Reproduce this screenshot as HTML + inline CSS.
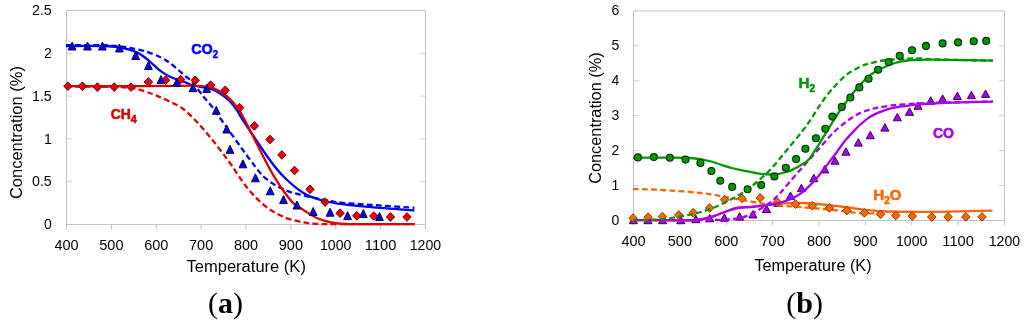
<!DOCTYPE html>
<html><head><meta charset="utf-8"><title>Concentration vs temperature</title>
<style>
html,body{margin:0;padding:0;background:#fff;}
svg{display:block;font-family:"Liberation Sans",sans-serif;}
</style></head><body>
<svg width="1024" height="321" viewBox="0 0 1024 321">
<rect width="1024" height="321" fill="#fff"/>
<g stroke="#c2c2c2" stroke-width="1" fill="none" shape-rendering="auto">
<path d="M66.50 10.50 H425.50 V229.50"/>
<path d="M66.50 10.50 V229.50 M66.50 224.50 H425.50"/>
<path d="M111.38 224.50 V229.50"/>
<path d="M156.25 224.50 V229.50"/>
<path d="M201.12 224.50 V229.50"/>
<path d="M246.00 224.50 V229.50"/>
<path d="M290.88 224.50 V229.50"/>
<path d="M335.75 224.50 V229.50"/>
<path d="M380.62 224.50 V229.50"/>
<path stroke="#d0d0d0" d="M67.00 181.70 h5 M425.00 181.70 h-5"/>
<path stroke="#d0d0d0" d="M67.00 138.90 h5 M425.00 138.90 h-5"/>
<path stroke="#d0d0d0" d="M67.00 96.10 h5 M425.00 96.10 h-5"/>
<path stroke="#d0d0d0" d="M67.00 53.30 h5 M425.00 53.30 h-5"/>
</g>
<text x="66.50" y="250.20" font-size="14" text-anchor="middle" fill="#000" textLength="24.2" lengthAdjust="spacingAndGlyphs" >400</text>
<text x="111.38" y="250.20" font-size="14" text-anchor="middle" fill="#000" textLength="24.2" lengthAdjust="spacingAndGlyphs" >500</text>
<text x="156.25" y="250.20" font-size="14" text-anchor="middle" fill="#000" textLength="24.2" lengthAdjust="spacingAndGlyphs" >600</text>
<text x="201.12" y="250.20" font-size="14" text-anchor="middle" fill="#000" textLength="24.2" lengthAdjust="spacingAndGlyphs" >700</text>
<text x="246.00" y="250.20" font-size="14" text-anchor="middle" fill="#000" textLength="24.2" lengthAdjust="spacingAndGlyphs" >800</text>
<text x="290.88" y="250.20" font-size="14" text-anchor="middle" fill="#000" textLength="24.2" lengthAdjust="spacingAndGlyphs" >900</text>
<text x="335.75" y="250.20" font-size="14" text-anchor="middle" fill="#000" textLength="31.5" lengthAdjust="spacingAndGlyphs" >1000</text>
<text x="380.62" y="250.20" font-size="14" text-anchor="middle" fill="#000" textLength="31.5" lengthAdjust="spacingAndGlyphs" >1100</text>
<text x="425.50" y="250.20" font-size="14" text-anchor="middle" fill="#000" textLength="31.5" lengthAdjust="spacingAndGlyphs" >1200</text>
<text x="51.80" y="229.20" font-size="14" text-anchor="end" fill="#000" >0</text>
<text x="51.80" y="186.40" font-size="14" text-anchor="end" fill="#000" textLength="19.8" lengthAdjust="spacingAndGlyphs" >0.5</text>
<text x="51.80" y="143.60" font-size="14" text-anchor="end" fill="#000" >1</text>
<text x="51.80" y="100.80" font-size="14" text-anchor="end" fill="#000" textLength="19.8" lengthAdjust="spacingAndGlyphs" >1.5</text>
<text x="51.80" y="58.00" font-size="14" text-anchor="end" fill="#000" >2</text>
<text x="51.80" y="15.20" font-size="14" text-anchor="end" fill="#000" textLength="19.8" lengthAdjust="spacingAndGlyphs" >2.5</text>
<text x="246.20" y="271.70" font-size="15.6" text-anchor="middle" fill="#000" textLength="119.4" lengthAdjust="spacingAndGlyphs" >Temperature (K)</text>
<text transform="translate(21.6 132.6) rotate(-90)" font-size="15.6" text-anchor="middle" textLength="133" lengthAdjust="spacingAndGlyphs">Concentration (%)</text>
<path d="M66.00 86.60 C71.67 86.63 89.33 86.60 100.00 86.80 C110.67 87.00 122.40 86.98 130.00 87.80 C137.60 88.62 141.17 90.40 145.60 91.70 C150.03 93.00 152.58 93.95 156.60 95.60 C160.62 97.25 165.05 99.20 169.70 101.60 C174.35 104.00 178.62 105.10 184.50 110.00 C190.38 114.90 197.78 122.67 205.00 131.00 C212.22 139.33 220.73 150.50 227.80 160.00 C234.87 169.50 241.03 180.22 247.40 188.00 C253.77 195.78 259.77 201.80 266.00 206.70 C272.23 211.60 278.52 214.78 284.80 217.40 C291.08 220.02 298.27 221.32 303.70 222.40 C309.13 223.48 310.57 223.60 317.40 223.90 C324.23 224.20 328.52 224.15 344.70 224.20 C360.88 224.25 402.87 224.20 414.50 224.20" fill="none" stroke="#e00000" stroke-width="2.3" stroke-dasharray="5.8 3.3" stroke-linejoin="round"/>
<path d="M66.00 45.20 C71.67 45.20 91.33 45.07 100.00 45.20 C108.67 45.33 113.00 45.53 118.00 46.00 C123.00 46.47 125.40 47.12 130.00 48.00 C134.60 48.88 140.42 49.70 145.60 51.30 C150.78 52.90 157.22 55.78 161.10 57.60 C164.98 59.42 166.30 60.38 168.90 62.20 C171.50 64.02 174.10 66.28 176.70 68.50 C179.30 70.72 181.90 73.25 184.50 75.50 C187.10 77.75 189.17 78.50 192.30 82.00 C195.43 85.50 200.17 92.58 203.30 96.50 C206.43 100.42 208.48 102.17 211.10 105.50 C213.72 108.83 212.48 107.42 219.00 116.50 C225.52 125.58 242.37 149.63 250.20 160.00 C258.03 170.37 260.23 173.72 266.00 178.70 C271.77 183.68 278.55 187.10 284.80 189.90 C291.05 192.70 297.30 193.93 303.50 195.50 C309.70 197.07 315.78 198.12 322.00 199.30 C328.22 200.48 332.80 201.68 340.80 202.60 C348.80 203.52 357.72 203.93 370.00 204.80 C382.28 205.67 407.08 207.30 414.50 207.80" fill="none" stroke="#0000ff" stroke-width="2.3" stroke-dasharray="5.8 3.3" stroke-linejoin="round"/>
<path d="M66.00 46.00 C71.67 46.00 91.83 45.87 100.00 46.00 C108.17 46.13 110.28 46.25 115.00 46.80 C119.72 47.35 124.50 48.28 128.30 49.30 C132.10 50.32 134.92 51.45 137.80 52.90 C140.68 54.35 143.02 56.05 145.60 58.00 C148.18 59.95 150.72 62.37 153.30 64.60 C155.88 66.83 158.50 69.47 161.10 71.40 C163.70 73.33 166.30 74.87 168.90 76.20 C171.50 77.53 174.10 78.43 176.70 79.40 C179.30 80.37 182.03 81.07 184.50 82.00 C186.97 82.93 188.92 84.20 191.50 85.00 C194.08 85.80 196.75 86.13 200.00 86.80 C203.25 87.47 207.67 87.88 211.00 89.00 C214.33 90.12 217.00 91.58 220.00 93.50 C223.00 95.42 226.25 97.83 229.00 100.50 C231.75 103.17 234.25 106.33 236.50 109.50 C238.75 112.67 236.95 111.08 242.50 119.50 C248.05 127.92 262.75 150.28 269.80 160.00 C276.85 169.72 279.18 172.30 284.80 177.80 C290.42 183.30 297.28 189.22 303.50 193.00 C309.72 196.78 315.88 198.68 322.10 200.50 C328.32 202.32 332.65 202.78 340.80 203.90 C348.95 205.02 358.72 206.12 371.00 207.20 C383.28 208.28 407.25 209.87 414.50 210.40" fill="none" stroke="#0000ff" stroke-width="2.3" stroke-linejoin="round"/>
<path d="M66.00 86.20 C75.00 86.20 101.00 86.27 120.00 86.20 C139.00 86.13 167.40 85.87 180.00 85.80 C192.60 85.73 190.42 85.55 195.60 85.80 C200.78 86.05 206.95 86.30 211.10 87.30 C215.25 88.30 217.38 89.88 220.50 91.80 C223.62 93.72 226.95 96.08 229.80 98.80 C232.65 101.52 235.27 104.87 237.60 108.10 C239.93 111.33 239.23 109.55 243.80 118.20 C248.37 126.85 259.73 149.92 265.00 160.00 C270.27 170.08 272.10 173.25 275.40 178.70 C278.70 184.15 281.68 188.50 284.80 192.70 C287.92 196.90 290.95 200.98 294.10 203.90 C297.25 206.82 299.82 207.80 303.70 210.20 C307.58 212.60 312.85 216.27 317.40 218.30 C321.95 220.33 326.45 221.45 331.00 222.40 C335.55 223.35 338.20 223.70 344.70 224.00 C351.20 224.30 358.37 224.17 370.00 224.20 C381.63 224.23 407.08 224.20 414.50 224.20" fill="none" stroke="#e00000" stroke-width="2.3" stroke-linejoin="round"/>
<path d="M67.90 81.85 L72.10 86.20 L67.90 90.55 L63.70 86.20 Z" fill="#ee0000" stroke="#680020" stroke-width="1.0"/>
<path d="M82.40 81.85 L86.60 86.20 L82.40 90.55 L78.20 86.20 Z" fill="#ee0000" stroke="#680020" stroke-width="1.0"/>
<path d="M97.40 82.75 L101.60 87.10 L97.40 91.45 L93.20 87.10 Z" fill="#ee0000" stroke="#680020" stroke-width="1.0"/>
<path d="M114.20 82.75 L118.40 87.10 L114.20 91.45 L110.00 87.10 Z" fill="#ee0000" stroke="#680020" stroke-width="1.0"/>
<path d="M131.00 82.75 L135.20 87.10 L131.00 91.45 L126.80 87.10 Z" fill="#ee0000" stroke="#680020" stroke-width="1.0"/>
<path d="M148.40 77.65 L152.60 82.00 L148.40 86.35 L144.20 82.00 Z" fill="#ee0000" stroke="#680020" stroke-width="1.0"/>
<path d="M165.60 75.85 L169.80 80.20 L165.60 84.55 L161.40 80.20 Z" fill="#ee0000" stroke="#680020" stroke-width="1.0"/>
<path d="M180.60 75.25 L184.80 79.60 L180.60 83.95 L176.40 79.60 Z" fill="#ee0000" stroke="#680020" stroke-width="1.0"/>
<path d="M195.20 75.95 L199.40 80.30 L195.20 84.65 L191.00 80.30 Z" fill="#ee0000" stroke="#680020" stroke-width="1.0"/>
<path d="M210.60 80.85 L214.80 85.20 L210.60 89.55 L206.40 85.20 Z" fill="#ee0000" stroke="#680020" stroke-width="1.0"/>
<path d="M225.20 85.95 L229.40 90.30 L225.20 94.65 L221.00 90.30 Z" fill="#ee0000" stroke="#680020" stroke-width="1.0"/>
<path d="M239.60 103.35 L243.80 107.70 L239.60 112.05 L235.40 107.70 Z" fill="#ee0000" stroke="#680020" stroke-width="1.0"/>
<path d="M254.40 121.55 L258.60 125.90 L254.40 130.25 L250.20 125.90 Z" fill="#ee0000" stroke="#680020" stroke-width="1.0"/>
<path d="M270.00 135.15 L274.20 139.50 L270.00 143.85 L265.80 139.50 Z" fill="#ee0000" stroke="#680020" stroke-width="1.0"/>
<path d="M281.90 150.55 L286.10 154.90 L281.90 159.25 L277.70 154.90 Z" fill="#ee0000" stroke="#680020" stroke-width="1.0"/>
<path d="M294.50 166.15 L298.70 170.50 L294.50 174.85 L290.30 170.50 Z" fill="#ee0000" stroke="#680020" stroke-width="1.0"/>
<path d="M310.00 184.95 L314.20 189.30 L310.00 193.65 L305.80 189.30 Z" fill="#ee0000" stroke="#680020" stroke-width="1.0"/>
<path d="M325.10 197.75 L329.30 202.10 L325.10 206.45 L320.90 202.10 Z" fill="#ee0000" stroke="#680020" stroke-width="1.0"/>
<path d="M340.10 208.85 L344.30 213.20 L340.10 217.55 L335.90 213.20 Z" fill="#ee0000" stroke="#680020" stroke-width="1.0"/>
<path d="M356.80 211.45 L361.00 215.80 L356.80 220.15 L352.60 215.80 Z" fill="#ee0000" stroke="#680020" stroke-width="1.0"/>
<path d="M373.80 211.65 L378.00 216.00 L373.80 220.35 L369.60 216.00 Z" fill="#ee0000" stroke="#680020" stroke-width="1.0"/>
<path d="M390.50 212.65 L394.70 217.00 L390.50 221.35 L386.30 217.00 Z" fill="#ee0000" stroke="#680020" stroke-width="1.0"/>
<path d="M407.00 212.65 L411.20 217.00 L407.00 221.35 L402.80 217.00 Z" fill="#ee0000" stroke="#680020" stroke-width="1.0"/>
<path d="M72.10 42.00 L76.00 50.00 L68.20 50.00 Z" fill="#0000ff" stroke="#08082e" stroke-width="1.0" stroke-linejoin="miter"/>
<path d="M87.50 42.00 L91.40 50.00 L83.60 50.00 Z" fill="#0000ff" stroke="#08082e" stroke-width="1.0" stroke-linejoin="miter"/>
<path d="M102.40 42.00 L106.30 50.00 L98.50 50.00 Z" fill="#0000ff" stroke="#08082e" stroke-width="1.0" stroke-linejoin="miter"/>
<path d="M119.40 44.00 L123.30 52.00 L115.50 52.00 Z" fill="#0000ff" stroke="#08082e" stroke-width="1.0" stroke-linejoin="miter"/>
<path d="M135.70 51.50 L139.60 59.50 L131.80 59.50 Z" fill="#0000ff" stroke="#08082e" stroke-width="1.0" stroke-linejoin="miter"/>
<path d="M148.40 61.50 L152.30 69.50 L144.50 69.50 Z" fill="#0000ff" stroke="#08082e" stroke-width="1.0" stroke-linejoin="miter"/>
<path d="M161.00 75.60 L164.90 83.60 L157.10 83.60 Z" fill="#0000ff" stroke="#08082e" stroke-width="1.0" stroke-linejoin="miter"/>
<path d="M176.80 78.40 L180.70 86.40 L172.90 86.40 Z" fill="#0000ff" stroke="#08082e" stroke-width="1.0" stroke-linejoin="miter"/>
<path d="M193.00 83.70 L196.90 91.70 L189.10 91.70 Z" fill="#0000ff" stroke="#08082e" stroke-width="1.0" stroke-linejoin="miter"/>
<path d="M206.70 84.40 L210.60 92.40 L202.80 92.40 Z" fill="#0000ff" stroke="#08082e" stroke-width="1.0" stroke-linejoin="miter"/>
<path d="M216.30 106.30 L220.20 114.30 L212.40 114.30 Z" fill="#0000ff" stroke="#08082e" stroke-width="1.0" stroke-linejoin="miter"/>
<path d="M226.70 125.00 L230.60 133.00 L222.80 133.00 Z" fill="#0000ff" stroke="#08082e" stroke-width="1.0" stroke-linejoin="miter"/>
<path d="M230.00 145.30 L233.90 153.30 L226.10 153.30 Z" fill="#0000ff" stroke="#08082e" stroke-width="1.0" stroke-linejoin="miter"/>
<path d="M242.90 159.80 L246.80 167.80 L239.00 167.80 Z" fill="#0000ff" stroke="#08082e" stroke-width="1.0" stroke-linejoin="miter"/>
<path d="M255.40 173.80 L259.30 181.80 L251.50 181.80 Z" fill="#0000ff" stroke="#08082e" stroke-width="1.0" stroke-linejoin="miter"/>
<path d="M270.20 186.80 L274.10 194.80 L266.30 194.80 Z" fill="#0000ff" stroke="#08082e" stroke-width="1.0" stroke-linejoin="miter"/>
<path d="M283.50 195.60 L287.40 203.60 L279.60 203.60 Z" fill="#0000ff" stroke="#08082e" stroke-width="1.0" stroke-linejoin="miter"/>
<path d="M297.00 201.00 L300.90 209.00 L293.10 209.00 Z" fill="#0000ff" stroke="#08082e" stroke-width="1.0" stroke-linejoin="miter"/>
<path d="M313.20 207.50 L317.10 215.50 L309.30 215.50 Z" fill="#0000ff" stroke="#08082e" stroke-width="1.0" stroke-linejoin="miter"/>
<path d="M330.10 208.20 L334.00 216.20 L326.20 216.20 Z" fill="#0000ff" stroke="#08082e" stroke-width="1.0" stroke-linejoin="miter"/>
<path d="M347.60 211.60 L351.50 219.60 L343.70 219.60 Z" fill="#0000ff" stroke="#08082e" stroke-width="1.0" stroke-linejoin="miter"/>
<path d="M363.30 209.50 L367.20 217.50 L359.40 217.50 Z" fill="#0000ff" stroke="#08082e" stroke-width="1.0" stroke-linejoin="miter"/>
<path d="M379.50 212.50 L383.40 220.50 L375.60 220.50 Z" fill="#0000ff" stroke="#08082e" stroke-width="1.0" stroke-linejoin="miter"/>
<text x="191.2" y="53.9" font-size="15.1" font-weight="bold" stroke="#0000ff" stroke-width="0.6" fill="#0000ff"><tspan textLength="21.6" lengthAdjust="spacingAndGlyphs">CO</tspan><tspan dy="4" font-size="10.4" textLength="5.2" lengthAdjust="spacingAndGlyphs">2</tspan></text>
<text x="110.8" y="118.7" font-size="15.1" font-weight="bold" stroke="#e00000" stroke-width="0.6" fill="#e00000"><tspan textLength="20" lengthAdjust="spacingAndGlyphs">CH</tspan><tspan dy="3.8" font-size="10.4" textLength="6" lengthAdjust="spacingAndGlyphs">4</tspan></text>
<text x="225.6" y="312.8" font-size="30" text-anchor="middle" font-family="Liberation Serif,serif">(<tspan font-weight="bold">a</tspan>)</text>
<g stroke="#c2c2c2" stroke-width="1" fill="none" shape-rendering="auto">
<path d="M633.50 10.90 H1004.50 V225.50"/>
<path d="M633.50 10.90 V225.50 M633.50 220.50 H1004.50"/>
<path d="M679.88 220.50 V225.50"/>
<path d="M726.25 220.50 V225.50"/>
<path d="M772.62 220.50 V225.50"/>
<path d="M819.00 220.50 V225.50"/>
<path d="M865.38 220.50 V225.50"/>
<path d="M911.75 220.50 V225.50"/>
<path d="M958.12 220.50 V225.50"/>
<path stroke="#d0d0d0" d="M634.00 185.57 h5 M1004.00 185.57 h-5"/>
<path stroke="#d0d0d0" d="M634.00 150.63 h5 M1004.00 150.63 h-5"/>
<path stroke="#d0d0d0" d="M634.00 115.70 h5 M1004.00 115.70 h-5"/>
<path stroke="#d0d0d0" d="M634.00 80.77 h5 M1004.00 80.77 h-5"/>
<path stroke="#d0d0d0" d="M634.00 45.83 h5 M1004.00 45.83 h-5"/>
</g>
<text x="633.50" y="245.90" font-size="14" text-anchor="middle" fill="#000" textLength="24.2" lengthAdjust="spacingAndGlyphs" >400</text>
<text x="679.88" y="245.90" font-size="14" text-anchor="middle" fill="#000" textLength="24.2" lengthAdjust="spacingAndGlyphs" >500</text>
<text x="726.25" y="245.90" font-size="14" text-anchor="middle" fill="#000" textLength="24.2" lengthAdjust="spacingAndGlyphs" >600</text>
<text x="772.62" y="245.90" font-size="14" text-anchor="middle" fill="#000" textLength="24.2" lengthAdjust="spacingAndGlyphs" >700</text>
<text x="819.00" y="245.90" font-size="14" text-anchor="middle" fill="#000" textLength="24.2" lengthAdjust="spacingAndGlyphs" >800</text>
<text x="865.38" y="245.90" font-size="14" text-anchor="middle" fill="#000" textLength="24.2" lengthAdjust="spacingAndGlyphs" >900</text>
<text x="911.75" y="245.90" font-size="14" text-anchor="middle" fill="#000" textLength="31.5" lengthAdjust="spacingAndGlyphs" >1000</text>
<text x="958.12" y="245.90" font-size="14" text-anchor="middle" fill="#000" textLength="31.5" lengthAdjust="spacingAndGlyphs" >1100</text>
<text x="1004.50" y="245.90" font-size="14" text-anchor="middle" fill="#000" textLength="31.5" lengthAdjust="spacingAndGlyphs" >1200</text>
<text x="619.40" y="224.60" font-size="14" text-anchor="end" fill="#000" >0</text>
<text x="619.40" y="189.67" font-size="14" text-anchor="end" fill="#000" >1</text>
<text x="619.40" y="154.73" font-size="14" text-anchor="end" fill="#000" >2</text>
<text x="619.40" y="119.80" font-size="14" text-anchor="end" fill="#000" >3</text>
<text x="619.40" y="84.87" font-size="14" text-anchor="end" fill="#000" >4</text>
<text x="619.40" y="49.93" font-size="14" text-anchor="end" fill="#000" >5</text>
<text x="619.40" y="15.00" font-size="14" text-anchor="end" fill="#000" >6</text>
<text x="813.00" y="271.00" font-size="15.6" text-anchor="middle" fill="#000" textLength="117.2" lengthAdjust="spacingAndGlyphs" >Temperature (K)</text>
<text transform="translate(600.8 118.1) rotate(-90)" font-size="15.6" text-anchor="middle" textLength="131.4" lengthAdjust="spacingAndGlyphs">Concentration (%)</text>
<path d="M633.40 216.30 L637.45 223.70 L629.35 223.70 Z" fill="#aa00ff" stroke="#3a0050" stroke-width="1.0" stroke-linejoin="miter"/>
<path d="M648.00 216.30 L652.05 223.70 L643.95 223.70 Z" fill="#aa00ff" stroke="#3a0050" stroke-width="1.0" stroke-linejoin="miter"/>
<path d="M662.60 216.30 L666.65 223.70 L658.55 223.70 Z" fill="#aa00ff" stroke="#3a0050" stroke-width="1.0" stroke-linejoin="miter"/>
<path d="M680.80 216.30 L684.85 223.70 L676.75 223.70 Z" fill="#aa00ff" stroke="#3a0050" stroke-width="1.0" stroke-linejoin="miter"/>
<path d="M695.90 215.30 L699.95 222.70 L691.85 222.70 Z" fill="#aa00ff" stroke="#3a0050" stroke-width="1.0" stroke-linejoin="miter"/>
<path d="M709.70 214.40 L713.75 221.80 L705.65 221.80 Z" fill="#aa00ff" stroke="#3a0050" stroke-width="1.0" stroke-linejoin="miter"/>
<path d="M724.40 213.80 L728.45 221.20 L720.35 221.20 Z" fill="#aa00ff" stroke="#3a0050" stroke-width="1.0" stroke-linejoin="miter"/>
<path d="M739.60 212.70 L743.65 220.10 L735.55 220.10 Z" fill="#aa00ff" stroke="#3a0050" stroke-width="1.0" stroke-linejoin="miter"/>
<path d="M752.90 210.50 L756.95 217.90 L748.85 217.90 Z" fill="#aa00ff" stroke="#3a0050" stroke-width="1.0" stroke-linejoin="miter"/>
<path d="M766.50 205.10 L770.55 212.50 L762.45 212.50 Z" fill="#aa00ff" stroke="#3a0050" stroke-width="1.0" stroke-linejoin="miter"/>
<path d="M778.00 198.90 L782.05 206.30 L773.95 206.30 Z" fill="#aa00ff" stroke="#3a0050" stroke-width="1.0" stroke-linejoin="miter"/>
<path d="M790.50 192.00 L794.55 199.40 L786.45 199.40 Z" fill="#aa00ff" stroke="#3a0050" stroke-width="1.0" stroke-linejoin="miter"/>
<path d="M801.40 184.20 L805.45 191.60 L797.35 191.60 Z" fill="#aa00ff" stroke="#3a0050" stroke-width="1.0" stroke-linejoin="miter"/>
<path d="M813.80 174.30 L817.85 181.70 L809.75 181.70 Z" fill="#aa00ff" stroke="#3a0050" stroke-width="1.0" stroke-linejoin="miter"/>
<path d="M824.70 165.50 L828.75 172.90 L820.65 172.90 Z" fill="#aa00ff" stroke="#3a0050" stroke-width="1.0" stroke-linejoin="miter"/>
<path d="M835.00 156.80 L839.05 164.20 L830.95 164.20 Z" fill="#aa00ff" stroke="#3a0050" stroke-width="1.0" stroke-linejoin="miter"/>
<path d="M845.90 147.80 L849.95 155.20 L841.85 155.20 Z" fill="#aa00ff" stroke="#3a0050" stroke-width="1.0" stroke-linejoin="miter"/>
<path d="M858.30 138.70 L862.35 146.10 L854.25 146.10 Z" fill="#aa00ff" stroke="#3a0050" stroke-width="1.0" stroke-linejoin="miter"/>
<path d="M870.30 131.30 L874.35 138.70 L866.25 138.70 Z" fill="#aa00ff" stroke="#3a0050" stroke-width="1.0" stroke-linejoin="miter"/>
<path d="M884.90 123.70 L888.95 131.10 L880.85 131.10 Z" fill="#aa00ff" stroke="#3a0050" stroke-width="1.0" stroke-linejoin="miter"/>
<path d="M897.30 113.40 L901.35 120.80 L893.25 120.80 Z" fill="#aa00ff" stroke="#3a0050" stroke-width="1.0" stroke-linejoin="miter"/>
<path d="M909.50 107.90 L913.55 115.30 L905.45 115.30 Z" fill="#aa00ff" stroke="#3a0050" stroke-width="1.0" stroke-linejoin="miter"/>
<path d="M918.00 101.90 L922.05 109.30 L913.95 109.30 Z" fill="#aa00ff" stroke="#3a0050" stroke-width="1.0" stroke-linejoin="miter"/>
<path d="M930.70 96.80 L934.75 104.20 L926.65 104.20 Z" fill="#aa00ff" stroke="#3a0050" stroke-width="1.0" stroke-linejoin="miter"/>
<path d="M942.70 94.90 L946.75 102.30 L938.65 102.30 Z" fill="#aa00ff" stroke="#3a0050" stroke-width="1.0" stroke-linejoin="miter"/>
<path d="M957.30 92.10 L961.35 99.50 L953.25 99.50 Z" fill="#aa00ff" stroke="#3a0050" stroke-width="1.0" stroke-linejoin="miter"/>
<path d="M971.40 91.30 L975.45 98.70 L967.35 98.70 Z" fill="#aa00ff" stroke="#3a0050" stroke-width="1.0" stroke-linejoin="miter"/>
<path d="M985.60 90.00 L989.65 97.40 L981.55 97.40 Z" fill="#aa00ff" stroke="#3a0050" stroke-width="1.0" stroke-linejoin="miter"/>
<path d="M633.00 189.00 C636.87 189.12 647.15 189.25 656.20 189.70 C665.25 190.15 678.22 190.93 687.30 191.70 C696.38 192.47 704.22 193.40 710.70 194.30 C717.18 195.20 719.20 195.85 726.20 197.10 C733.20 198.35 745.23 200.52 752.70 201.80 C760.17 203.08 762.73 203.88 771.00 204.80 C779.27 205.72 791.88 206.43 802.30 207.30 C812.72 208.17 824.62 209.08 833.50 210.00 C842.38 210.92 849.30 212.25 855.60 212.80 C861.90 213.35 867.23 213.30 871.30 213.30 C875.37 213.30 877.22 213.02 880.00 212.80 C882.78 212.58 886.67 212.13 888.00 212.00" fill="none" stroke="#ff6600" stroke-width="2.3" stroke-dasharray="5.8 3.3" stroke-linejoin="round"/>
<path d="M633.00 220.20 C637.50 220.20 649.67 220.23 660.00 220.20 C670.33 220.17 686.30 220.60 695.00 220.00 C703.70 219.40 707.25 217.93 712.20 216.60 C717.15 215.27 720.55 213.43 724.70 212.00 C728.85 210.57 732.38 208.90 737.10 208.00 C741.82 207.10 748.35 207.07 753.00 206.60 C757.65 206.13 760.93 205.67 765.00 205.20 C769.07 204.73 771.18 204.17 777.40 203.80 C783.62 203.43 792.95 202.70 802.30 203.00 C811.65 203.30 824.72 204.68 833.50 205.60 C842.28 206.52 848.70 207.70 855.00 208.50 C861.30 209.30 865.98 209.90 871.30 210.40 C876.62 210.90 879.12 211.27 886.90 211.50 C894.68 211.73 907.58 211.78 918.00 211.80 C928.42 211.82 936.98 211.80 949.40 211.60 C961.82 211.40 985.32 210.77 992.50 210.60" fill="none" stroke="#ff6600" stroke-width="2.3" stroke-linejoin="round"/>
<path d="M633.10 213.85 L637.30 218.20 L633.10 222.55 L628.90 218.20 Z" fill="#ff6600" stroke="#8a3a00" stroke-width="1.0"/>
<path d="M648.10 212.75 L652.30 217.10 L648.10 221.45 L643.90 217.10 Z" fill="#ff6600" stroke="#8a3a00" stroke-width="1.0"/>
<path d="M662.40 212.25 L666.60 216.60 L662.40 220.95 L658.20 216.60 Z" fill="#ff6600" stroke="#8a3a00" stroke-width="1.0"/>
<path d="M678.70 210.65 L682.90 215.00 L678.70 219.35 L674.50 215.00 Z" fill="#ff6600" stroke="#8a3a00" stroke-width="1.0"/>
<path d="M693.20 208.35 L697.40 212.70 L693.20 217.05 L689.00 212.70 Z" fill="#ff6600" stroke="#8a3a00" stroke-width="1.0"/>
<path d="M709.60 203.65 L713.80 208.00 L709.60 212.35 L705.40 208.00 Z" fill="#ff6600" stroke="#8a3a00" stroke-width="1.0"/>
<path d="M724.70 195.45 L728.90 199.80 L724.70 204.15 L720.50 199.80 Z" fill="#ff6600" stroke="#8a3a00" stroke-width="1.0"/>
<path d="M742.00 194.05 L746.20 198.40 L742.00 202.75 L737.80 198.40 Z" fill="#ff6600" stroke="#8a3a00" stroke-width="1.0"/>
<path d="M760.20 193.55 L764.40 197.90 L760.20 202.25 L756.00 197.90 Z" fill="#ff6600" stroke="#8a3a00" stroke-width="1.0"/>
<path d="M777.40 197.95 L781.60 202.30 L777.40 206.65 L773.20 202.30 Z" fill="#ff6600" stroke="#8a3a00" stroke-width="1.0"/>
<path d="M795.50 199.75 L799.70 204.10 L795.50 208.45 L791.30 204.10 Z" fill="#ff6600" stroke="#8a3a00" stroke-width="1.0"/>
<path d="M812.30 201.35 L816.50 205.70 L812.30 210.05 L808.10 205.70 Z" fill="#ff6600" stroke="#8a3a00" stroke-width="1.0"/>
<path d="M829.40 203.55 L833.60 207.90 L829.40 212.25 L825.20 207.90 Z" fill="#ff6600" stroke="#8a3a00" stroke-width="1.0"/>
<path d="M847.00 206.15 L851.20 210.50 L847.00 214.85 L842.80 210.50 Z" fill="#ff6600" stroke="#8a3a00" stroke-width="1.0"/>
<path d="M864.50 208.45 L868.70 212.80 L864.50 217.15 L860.30 212.80 Z" fill="#ff6600" stroke="#8a3a00" stroke-width="1.0"/>
<path d="M880.60 209.95 L884.80 214.30 L880.60 218.65 L876.40 214.30 Z" fill="#ff6600" stroke="#8a3a00" stroke-width="1.0"/>
<path d="M895.80 211.15 L900.00 215.50 L895.80 219.85 L891.60 215.50 Z" fill="#ff6600" stroke="#8a3a00" stroke-width="1.0"/>
<path d="M912.30 211.75 L916.50 216.10 L912.30 220.45 L908.10 216.10 Z" fill="#ff6600" stroke="#8a3a00" stroke-width="1.0"/>
<path d="M931.70 212.65 L935.90 217.00 L931.70 221.35 L927.50 217.00 Z" fill="#ff6600" stroke="#8a3a00" stroke-width="1.0"/>
<path d="M948.10 212.55 L952.30 216.90 L948.10 221.25 L943.90 216.90 Z" fill="#ff6600" stroke="#8a3a00" stroke-width="1.0"/>
<path d="M965.80 212.55 L970.00 216.90 L965.80 221.25 L961.60 216.90 Z" fill="#ff6600" stroke="#8a3a00" stroke-width="1.0"/>
<path d="M982.00 212.55 L986.20 216.90 L982.00 221.25 L977.80 216.90 Z" fill="#ff6600" stroke="#8a3a00" stroke-width="1.0"/>
<path d="M633.00 220.20 C640.83 220.20 666.33 220.23 680.00 220.20 C693.67 220.17 706.67 220.17 715.00 220.00 C723.33 219.83 725.27 219.67 730.00 219.20 C734.73 218.73 738.85 218.63 743.40 217.20 C747.95 215.77 752.92 212.97 757.30 210.60 C761.68 208.23 766.25 205.55 769.70 203.00 C773.15 200.45 775.17 198.22 778.00 195.30 C780.83 192.38 782.65 190.13 786.70 185.50 C790.75 180.87 797.10 173.42 802.30 167.50 C807.50 161.58 813.28 155.22 817.90 150.00 C822.52 144.78 826.68 139.78 830.00 136.20 C833.32 132.62 835.20 130.83 837.80 128.50 C840.40 126.17 843.02 124.15 845.60 122.20 C848.18 120.25 850.72 118.40 853.30 116.80 C855.88 115.20 858.50 113.77 861.10 112.60 C863.70 111.43 866.30 110.60 868.90 109.80 C871.50 109.00 872.80 108.53 876.70 107.80 C880.60 107.07 886.75 106.03 892.30 105.40 C897.85 104.77 903.72 104.42 910.00 104.00 C916.28 103.58 916.17 103.30 930.00 102.90 C943.83 102.50 982.50 101.82 993.00 101.60" fill="none" stroke="#aa00ee" stroke-width="2.3" stroke-dasharray="5.8 3.3" stroke-linejoin="round"/>
<path d="M633.00 220.20 C637.50 220.20 649.67 220.23 660.00 220.20 C670.33 220.17 686.30 220.60 695.00 220.00 C703.70 219.40 707.25 217.93 712.20 216.60 C717.15 215.27 720.55 213.43 724.70 212.00 C728.85 210.57 732.38 208.87 737.10 208.00 C741.82 207.13 747.35 207.37 753.00 206.80 C758.65 206.23 765.38 205.63 771.00 204.60 C776.62 203.57 781.48 202.65 786.70 200.60 C791.92 198.55 797.10 196.28 802.30 192.30 C807.50 188.32 812.70 182.67 817.90 176.70 C823.10 170.73 829.82 161.37 833.50 156.50 C837.18 151.63 837.98 150.23 840.00 147.50 C842.02 144.77 843.38 142.75 845.60 140.10 C847.82 137.45 850.72 134.32 853.30 131.60 C855.88 128.88 858.50 126.13 861.10 123.80 C863.70 121.47 866.30 119.33 868.90 117.60 C871.50 115.87 874.10 114.62 876.70 113.40 C879.30 112.18 881.90 111.17 884.50 110.30 C887.10 109.43 889.72 108.80 892.30 108.20 C894.88 107.60 897.05 107.17 900.00 106.70 C902.95 106.23 906.28 105.85 910.00 105.40 C913.72 104.95 915.05 104.47 922.30 104.00 C929.55 103.53 941.72 103.00 953.50 102.60 C965.28 102.20 986.42 101.77 993.00 101.60" fill="none" stroke="#aa00ee" stroke-width="2.3" stroke-linejoin="round"/>
<path d="M633.00 220.00 C635.83 219.97 644.83 219.97 650.00 219.80 C655.17 219.63 659.08 219.53 664.00 219.00 C668.92 218.47 674.32 217.52 679.50 216.60 C684.68 215.68 689.90 214.80 695.10 213.50 C700.30 212.20 705.52 210.75 710.70 208.80 C715.88 206.85 721.02 204.40 726.20 201.80 C731.38 199.20 736.90 196.33 741.80 193.20 C746.70 190.07 750.73 187.05 755.60 183.00 C760.47 178.95 765.82 174.37 771.00 168.90 C776.18 163.43 781.48 156.47 786.70 150.20 C791.92 143.93 798.28 136.45 802.30 131.30 C806.32 126.15 808.18 123.18 810.80 119.30 C813.42 115.42 815.98 111.08 818.00 108.00 C820.02 104.92 820.57 103.92 822.90 100.80 C825.23 97.68 828.15 93.57 832.00 89.30 C835.85 85.03 841.33 78.95 846.00 75.20 C850.67 71.45 856.00 68.77 860.00 66.80 C864.00 64.83 866.25 64.45 870.00 63.40 C873.75 62.35 878.35 61.18 882.50 60.50 C886.65 59.82 890.75 59.62 894.90 59.30 C899.05 58.98 903.25 58.75 907.40 58.60 C911.55 58.45 915.03 58.27 919.80 58.40 C924.57 58.53 923.80 59.02 936.00 59.40 C948.20 59.78 983.50 60.48 993.00 60.70" fill="none" stroke="#009900" stroke-width="2.3" stroke-dasharray="5.8 3.3" stroke-linejoin="round"/>
<path d="M633.00 157.70 C637.50 157.70 650.50 157.65 660.00 157.70 C669.50 157.75 681.83 157.45 690.00 158.00 C698.17 158.55 702.08 159.33 709.00 161.00 C715.92 162.67 725.50 166.37 731.50 168.00 C737.50 169.63 740.98 169.97 745.00 170.80 C749.02 171.63 751.27 172.38 755.60 173.00 C759.93 173.62 765.82 174.67 771.00 174.50 C776.18 174.33 781.48 173.70 786.70 172.00 C791.92 170.30 798.70 166.30 802.30 164.30 C805.90 162.30 806.18 162.30 808.30 160.00 C810.42 157.70 812.82 153.78 815.00 150.50 C817.18 147.22 819.23 143.80 821.40 140.30 C823.57 136.80 825.82 133.05 828.00 129.50 C830.18 125.95 832.50 122.17 834.50 119.00 C836.50 115.83 838.08 113.30 840.00 110.50 C841.92 107.70 843.83 105.12 846.00 102.20 C848.17 99.28 850.67 95.87 853.00 93.00 C855.33 90.13 857.17 87.97 860.00 85.00 C862.83 82.03 866.25 78.03 870.00 75.20 C873.75 72.37 878.35 70.03 882.50 68.00 C886.65 65.97 890.75 64.25 894.90 63.00 C899.05 61.75 903.25 61.03 907.40 60.50 C911.55 59.97 913.58 59.92 919.80 59.80 C926.02 59.68 932.50 59.65 944.70 59.80 C956.90 59.95 984.95 60.55 993.00 60.70" fill="none" stroke="#009900" stroke-width="2.3" stroke-linejoin="round"/>
<circle cx="637.90" cy="157.40" r="3.50" fill="#009900" stroke="#002a00" stroke-width="1.1"/>
<circle cx="653.90" cy="157.00" r="3.50" fill="#009900" stroke="#002a00" stroke-width="1.1"/>
<circle cx="669.80" cy="157.80" r="3.50" fill="#009900" stroke="#002a00" stroke-width="1.1"/>
<circle cx="685.50" cy="159.60" r="3.50" fill="#009900" stroke="#002a00" stroke-width="1.1"/>
<circle cx="700.40" cy="163.00" r="3.50" fill="#009900" stroke="#002a00" stroke-width="1.1"/>
<circle cx="711.40" cy="171.00" r="3.50" fill="#009900" stroke="#002a00" stroke-width="1.1"/>
<circle cx="720.30" cy="180.80" r="3.50" fill="#009900" stroke="#002a00" stroke-width="1.1"/>
<circle cx="732.20" cy="186.90" r="3.50" fill="#009900" stroke="#002a00" stroke-width="1.1"/>
<circle cx="747.60" cy="189.20" r="3.50" fill="#009900" stroke="#002a00" stroke-width="1.1"/>
<circle cx="761.20" cy="185.10" r="3.50" fill="#009900" stroke="#002a00" stroke-width="1.1"/>
<circle cx="774.40" cy="176.40" r="3.50" fill="#009900" stroke="#002a00" stroke-width="1.1"/>
<circle cx="785.80" cy="167.70" r="3.50" fill="#009900" stroke="#002a00" stroke-width="1.1"/>
<circle cx="796.10" cy="159.00" r="3.50" fill="#009900" stroke="#002a00" stroke-width="1.1"/>
<circle cx="805.40" cy="148.70" r="3.50" fill="#009900" stroke="#002a00" stroke-width="1.1"/>
<circle cx="815.90" cy="138.20" r="3.50" fill="#009900" stroke="#002a00" stroke-width="1.1"/>
<circle cx="825.30" cy="128.80" r="3.50" fill="#009900" stroke="#002a00" stroke-width="1.1"/>
<circle cx="832.40" cy="116.60" r="3.50" fill="#009900" stroke="#002a00" stroke-width="1.1"/>
<circle cx="841.80" cy="106.90" r="3.50" fill="#009900" stroke="#002a00" stroke-width="1.1"/>
<circle cx="850.40" cy="97.50" r="3.50" fill="#009900" stroke="#002a00" stroke-width="1.1"/>
<circle cx="859.40" cy="87.40" r="3.50" fill="#009900" stroke="#002a00" stroke-width="1.1"/>
<circle cx="868.60" cy="78.70" r="3.50" fill="#009900" stroke="#002a00" stroke-width="1.1"/>
<circle cx="878.10" cy="69.80" r="3.50" fill="#009900" stroke="#002a00" stroke-width="1.1"/>
<circle cx="888.70" cy="62.00" r="3.50" fill="#009900" stroke="#002a00" stroke-width="1.1"/>
<circle cx="899.70" cy="55.70" r="3.50" fill="#009900" stroke="#002a00" stroke-width="1.1"/>
<circle cx="912.00" cy="50.20" r="3.50" fill="#009900" stroke="#002a00" stroke-width="1.1"/>
<circle cx="926.00" cy="45.90" r="3.50" fill="#009900" stroke="#002a00" stroke-width="1.1"/>
<circle cx="942.60" cy="43.40" r="3.50" fill="#009900" stroke="#002a00" stroke-width="1.1"/>
<circle cx="958.10" cy="42.40" r="3.50" fill="#009900" stroke="#002a00" stroke-width="1.1"/>
<circle cx="973.70" cy="41.20" r="3.50" fill="#009900" stroke="#002a00" stroke-width="1.1"/>
<circle cx="986.20" cy="40.90" r="3.50" fill="#009900" stroke="#002a00" stroke-width="1.1"/>
<text x="798.5" y="88.2" font-size="15.1" font-weight="bold" stroke="#009900" stroke-width="0.6" fill="#009900"><tspan textLength="11" lengthAdjust="spacingAndGlyphs">H</tspan><tspan dy="3.8" font-size="10.4" textLength="5.5" lengthAdjust="spacingAndGlyphs">2</tspan></text>
<text x="933" y="138" font-size="15.1" font-weight="bold" stroke="#aa00ee" stroke-width="0.6" fill="#aa00ee" textLength="21" lengthAdjust="spacingAndGlyphs">CO</text>
<text x="873.2" y="199.7" font-size="15.1" font-weight="bold" stroke="#ff6600" stroke-width="0.6" fill="#ff6600"><tspan textLength="11" lengthAdjust="spacingAndGlyphs">H</tspan><tspan dy="3.8" font-size="10.4" textLength="5.5" lengthAdjust="spacingAndGlyphs">2</tspan><tspan dy="-3.8" textLength="11.5" lengthAdjust="spacingAndGlyphs">O</tspan></text>
<text x="804.7" y="312.6" font-size="30" text-anchor="middle" font-family="Liberation Serif,serif">(<tspan font-weight="bold">b</tspan>)</text>
</svg>
</body></html>
